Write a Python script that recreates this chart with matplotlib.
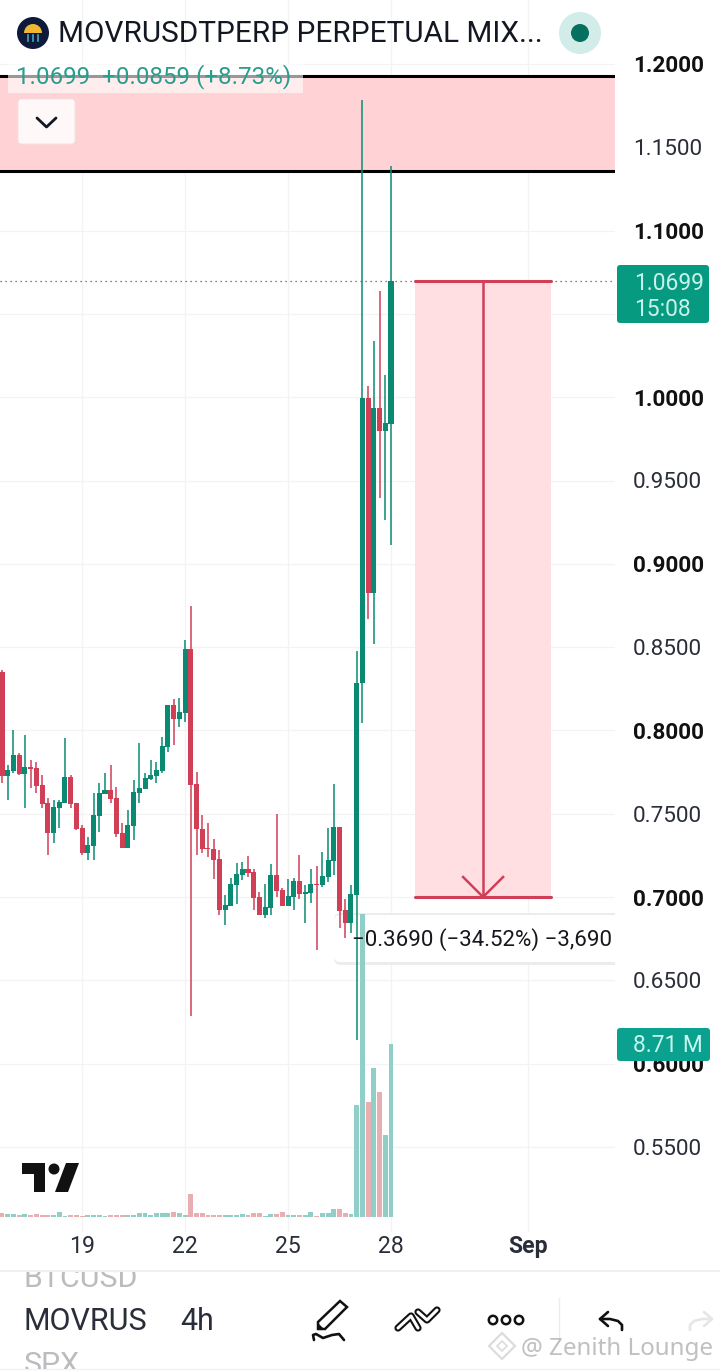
import matplotlib
matplotlib.use('Agg')
import matplotlib.pyplot as plt
from matplotlib.patches import Rectangle, FancyBboxPatch, Circle, Polygon, Wedge
import numpy as np

plt.rcParams['font.family'] = ['Roboto', 'DejaVu Sans']

# candles, 4h, last one sits on the "28" tick
opens = [.8351, .7727, .7757, .7853, .7739, .7781, .7775, .7673, .7563, .7387,
         .7535, .7567, .7721, .7563, .7415, .7265, .7309, .7489, .7619, .7643,
         .7595, .7385, .7295, .7427, .7625, .7649, .7707, .7727, .7757, .7903,
         .8153, .8069, .8107, .8489, .7676, .7408, .7294, .7288, .7228, .6922,
         .6946, .7072, .7132, .7168, .7150, .7000, .6892, .6934, .7132, .7042,
         .6946, .7000, .7096, .7018, .7024, .7078, .7072, .7120, .7216, .7420,
         .6922, .6846, .7013, .8283, .9998, .8823, .9938, .9798, .9842]
highs = [.8363, .7793, .8003, .7867, .7973, .7823, .7809, .7733, .7593, .7583,
         .7583, .7955, .7731, .7563, .7433, .7363, .7623, .7687, .7747, .7793,
         .7663, .7447, .7523, .7703, .7925, .7747, .7823, .7811, .7963, .8153,
         .8191, .8197, .8543, .8747, .7752, .7492, .7446, .7348, .7282, .7012,
         .7112, .7206, .7212, .7246, .7168, .7030, .7078, .7198, .7498, .7054,
         .7108, .7114, .7252, .7072, .7168, .7186, .7270, .7414, .7678, .7420,
         .6988, .7072, .8477, 1.1784, 1.0068, 1.0340, 1.0638, 1.0134, 1.1388]
lows = [.7687, .7583, .7747, .7733, .7537, .7657, .7627, .7535, .7253, .7327,
        .7415, .7563, .7535, .7405, .7251, .7223, .7223, .7391, .7619, .7563,
        .7359, .7295, .7295, .7343, .7563, .7649, .7703, .7683, .7743, .7871,
        .7913, .8019, .8049, .6286, .7252, .7262, .7242, .7108, .6892, .6832,
        .6946, .6958, .7102, .7120, .6922, .6892, .6874, .6892, .7000, .6946,
        .6946, .6922, .6988, .6844, .6964, .6682, .7060, .7090, .7132, .6814,
        .6754, .6784, .6142, .8047, .8669, .8519, .9396, .9260, .9114]
closes = [.7727, .7763, .7853, .7739, .7779, .7769, .7667, .7559, .7387, .7539,
          .7569, .7721, .7559, .7409, .7263, .7311, .7493, .7625, .7643, .7587,
          .7379, .7295, .7433, .7631, .7655, .7715, .7733, .7763, .7907, .8153,
          .8069, .8111, .8489, .7675, .7406, .7288, .7286, .7222, .6922, .6950,
          .7078, .7138, .7168, .7144, .6994, .6892, .6940, .7132, .7036, .6946,
          .7006, .7096, .7018, .7030, .7078, .7072, .7126, .7222, .7420, .6916,
          .6846, .7018, .8283, .9998, .8823, .9938, .9798, .9848, 1.0699]
volumes = [.20, .15, .15, .10, .15, .08, .15, .10, .12, .12,
           .25, .05, .12, .10, .03, .10, .12, .10, .05, .12,
           .12, .12, .10, .10, .18, .18, .12, .18, .20, .22,
           .25, .18, .12, 1.16, .20, .18, .12, .10, .10, .10,
           .10, .10, .15, .10, .18, .18, .05, .15, .15, .25,
           .10, .08, .10, .08, .25, .05, .20, .22, .40, .40,
           .20, .15, 5.64, 15.26, 5.79, 7.50, 6.29, 4.13, 8.71]

price_ticks = [1.2, 1.15, 1.1, 1.05, 1.0, .95, .9, .85, .8, .75, .7, .65, .6, .55]
price_labels = ['1.2000', '1.1500', '1.1000', '', '1.0000', '0.9500', '0.9000', '0.8500', '0.8000', '0.7500',
                '0.7000', '0.6500', '0.6000', '0.5500']
date_ticks = [-54, -36, -18, 0, 24]
date_labels = ['19', '22', '25', '28', 'Sep']

zone_top, zone_bottom = 1.1928, 1.1358
entry_price, target_price = 1.0699, 0.70
pos_start, pos_end = 4.2, 28.0

GREEN = '#0a8a73'
RED = '#d13f57'
TEAL = '#8fcfc7'
PINK = '#e9aeb1'
W, H = 720, 1371

# pixel <-> value helpers, chart scale measured off the axis labels
PX_PER_UNIT = 1666.0
PX_PER_BAR = 5.72
PANE_BOTTOM = 1232
PANE_RIGHT = 615
price_at = lambda y: 1.2 - (y - 64) / PX_PER_UNIT
vol_at = lambda y: (1217 - y) * 8.71 / 173

n = len(closes)
idx = np.arange(-n + 1, 1)
o, h, l, c, v = map(np.array, (opens, highs, lows, closes, volumes))
up = c >= o

fig = plt.figure(figsize=(W / 100, H / 100), dpi=100, facecolor='white')
ax = fig.add_axes([0, 1 - PANE_BOTTOM / H, PANE_RIGHT / W, PANE_BOTTOM / H])
ax.set_xlim(-391 / PX_PER_BAR, (PANE_RIGHT - 391) / PX_PER_BAR)
ax.set_ylim(price_at(PANE_BOTTOM), price_at(0))
for s in ax.spines.values():
    s.set_visible(False)

# volume on its own scale, same pane (twinx moves the price ticks left, so ticks come after)
ax2 = ax.twinx()
ax2.set_ylim(vol_at(PANE_BOTTOM), vol_at(0))
ax2.axis('off')
ax2.bar(idx, v, width=0.85, color=[TEAL if u else PINK for u in up], lw=0)

ax.yaxis.tick_right()
ax.set_yticks(price_ticks)
ax.set_yticklabels(price_labels)
ax.set_xticks(date_ticks)
ax.set_xticklabels(date_labels)
ax.tick_params(axis='both', length=0)
ax.tick_params(axis='y', pad=13, labelsize=16.2, labelcolor='#2a2e39')
ax.tick_params(axis='x', pad=2, labelsize=16.6, labelcolor='#2a2e39')
for lab, p in zip(ax.get_yticklabels(), price_ticks):
    if round(p * 100) % 10 == 0:
        lab.set_fontweight('bold')
        lab.set_color('#111111')
ax.get_xticklabels()[-1].set_fontweight('bold')
ax.grid(True, color='#f3f3f4', lw=0.9)
ax.set_axisbelow(True)

# resistance zone
ax.axhspan(zone_bottom, zone_top, color='#ffd3d6', lw=0, zorder=1)
ax.axhline(zone_top, color='black', lw=2.2, zorder=2)
ax.axhline(zone_bottom, color='black', lw=2.2, zorder=2)

# short position tool
ax.add_patch(Rectangle((pos_start, target_price), pos_end - pos_start, entry_price - target_price,
                       fc='#ffdfe2', ec='none', zorder=1))
ax.plot([pos_start, pos_end], [entry_price, entry_price], color=RED, lw=2.2, zorder=3, solid_capstyle='round')
ax.plot([pos_start, pos_end], [target_price, target_price], color=RED, lw=2.2, zorder=3, solid_capstyle='round')
mid = (pos_start + pos_end) / 2
ax.plot([mid, mid], [entry_price, target_price], color=RED, lw=1.8, zorder=3)
ax.plot([mid - 3.5, mid, mid + 3.5], [target_price + .012, target_price, target_price + .012],
        color=RED, lw=1.8, zorder=3)
ax.axhline(entry_price, color='#555555', lw=0.9, ls=(0, (1, 3)), zorder=2)

# candles
colors = [GREEN if u else RED for u in up]
ax.vlines(idx, l, h, colors=colors, lw=1.1, zorder=5)
ax.bar(idx, np.maximum(np.abs(c - o), .0008), bottom=np.minimum(o, c), width=0.88, color=colors, lw=0, zorder=6)

# everything below is screen furniture, in pixels
ui = fig.add_axes([0, 0, 1, 1], facecolor='none')
ui.set_xlim(0, W)
ui.set_ylim(H, 0)
ui.axis('off')

# tooltip sits under the candles but over the grid
ax.add_patch(FancyBboxPatch((334, 913), 310, 52, boxstyle='round,pad=0,rounding_size=7',
                            transform=ui.transData, fc='#ececec', ec='none', zorder=4))
ax.add_patch(FancyBboxPatch((334, 915), 310, 47, boxstyle='round,pad=0,rounding_size=6',
                            transform=ui.transData, fc='white', ec='none', zorder=4))
ui.text(352, 940, '\u22120.3690 (\u221234.52%) \u22123,690', fontsize=16, color='#16171c', va='center', ha='left')

# last price and volume labels
ui.add_patch(FancyBboxPatch((618, 266), 90, 56, boxstyle='round,pad=1,rounding_size=3', fc='#069a80', ec='none'))
ui.text(634, 284, '1.0699', fontsize=16.4, color='#c8f2ea', ha='left', va='center')
ui.text(634, 309, '15:08', fontsize=16.4, color='#c8f2ea', ha='left', va='center')
ui.add_patch(FancyBboxPatch((618, 1029), 91, 31, boxstyle='round,pad=1,rounding_size=3', fc='#0aa18f', ec='none'))
ui.text(633, 1046, '8.71 M', fontsize=16.4, color='#c8f6ef', ha='left', va='center')

# header
ui.add_patch(Circle((33, 33), 16, fc='#0e1a3a', ec='none'))
ui.add_patch(Wedge((33, 33), 9, 180, 360, fc='#f2b632', ec='none'))
for dx in (-5, 0, 5):
    ui.plot([33 + dx, 33 + dx], [35, 41], color='#4aa3c7', lw=1.2)
ui.text(58, 34, 'MOVRUSDTPERP PERPETUAL MIX...', fontsize=21.4, color='#131722', va='center', ha='left')
ui.add_patch(Circle((580, 33), 21, fc='#d2ede9', ec='none'))
ui.add_patch(Circle((580, 33), 9, fc='#05705f', ec='none'))
ui.add_patch(Rectangle((8, 63), 295, 30, fc='white', alpha=0.6, ec='none'))
ui.text(16, 77, '1.0699  +0.0859 (+8.73%)', fontsize=17.4, color='#2a9d8c', va='center', ha='left')
ui.add_patch(FancyBboxPatch((18, 99), 57, 45, boxstyle='round,pad=0,rounding_size=4', fc='#fff8f8', ec='#f3e2e2', lw=0.6))
ui.plot([37, 46.5, 56], [118, 127, 118], color='#131722', lw=2, solid_capstyle='round', solid_joinstyle='round')

# TV logo
ui.add_patch(Polygon([(22, 1163), (45, 1163), (45, 1192), (34, 1192), (34, 1174), (22, 1174)], fc='#111111', ec='none'))
ui.add_patch(Circle((54, 1169), 5.5, fc='#111111', ec='none'))
ui.add_patch(Polygon([(66, 1163), (79, 1163), (68, 1192), (55, 1192)], fc='#111111', ec='none'))

# bottom bar
ui.plot([0, W], [1271, 1271], color='#ececec', lw=1.2)
ui.plot([0, W], [1369, 1369], color='#f2f2f2', lw=1)
t1 = ui.text(24, 1279, 'BTCUSD', fontsize=21.8, color='#bcbcc0', va='center', ha='left', clip_on=True)
t1.set_clip_path(Rectangle((0, 1272), 150, 30, transform=ui.transData))
ui.text(24, 1322, 'MOVRUS', fontsize=22, color='#2a2e39', va='center', ha='left')
ui.add_patch(Rectangle((132, 1305), 20, 30, fc='white', alpha=0.45, ec='none'))
ui.text(180, 1322, '4h', fontsize=22, color='#2a2e39', va='center', ha='left')
t2 = ui.text(24, 1365, 'SPX', fontsize=21.8, color='#bcbcc0', va='center', ha='left', clip_on=True)
t2.set_clip_path(Rectangle((0, 1340), 150, 29, transform=ui.transData))

# pencil
ui.add_patch(Polygon([(318, 1322), (340, 1301), (347, 1307), (325, 1329), (318, 1329)], fc='white', ec='#111111', lw=1.8))
ui.add_patch(Polygon([(318, 1324), (323, 1329), (318, 1329)], fc='#111111', ec='#111111', lw=1))
ui.plot([314, 313, 316, 323, 332, 339, 344], [1340, 1335, 1334, 1338, 1335, 1334, 1340], color='#111111', lw=1.9,
        solid_capstyle='round')
# drawing tools
for xs, ys in (([398, 411, 418], [1328, 1316, 1328]), ([418, 427, 437], [1312, 1320, 1310])):
    ui.plot(xs, ys, color='#111111', lw=5.2, solid_capstyle='round', solid_joinstyle='round')
    ui.plot(xs, ys, color='white', lw=2.2, solid_capstyle='round', solid_joinstyle='round')
# more
for cx in (493, 506, 519):
    ui.add_patch(Circle((cx, 1320), 4.2, fc='white', ec='#111111', lw=1.8))
ui.plot([559, 559], [1298, 1340], color='#ececec', lw=1)
# undo / redo
ui.plot([608, 600, 608], [1312, 1319, 1326], color='#111111', lw=1.9, solid_joinstyle='round', solid_capstyle='round')
ui.plot([600, 610, 618, 622, 622], [1319, 1319, 1321, 1325, 1330], color='#111111', lw=1.9, solid_capstyle='round')
ui.plot([704, 712, 704], [1312, 1319, 1326], color='#e6e6e6', lw=1.9, solid_joinstyle='round', solid_capstyle='round')
ui.plot([712, 702, 694, 690, 690], [1319, 1319, 1321, 1325, 1330], color='#e6e6e6', lw=1.9, solid_capstyle='round')

# watermark
ui.add_patch(Polygon([(502, 1333), (515, 1346), (502, 1359), (489, 1346)], fc='none', ec='#dcdcdc', lw=1.6))
ui.add_patch(Polygon([(502, 1341), (507, 1346), (502, 1351), (497, 1346)], fc='none', ec='#dcdcdc', lw=1.2))
ui.text(521, 1349, '@ Zenith Lounge', fontsize=17.4, color='#b9b9b9', family=['Noto Sans', 'DejaVu Sans'],
        va='center', ha='left', alpha=0.9)

fig.savefig('out.png', dpi=100)
